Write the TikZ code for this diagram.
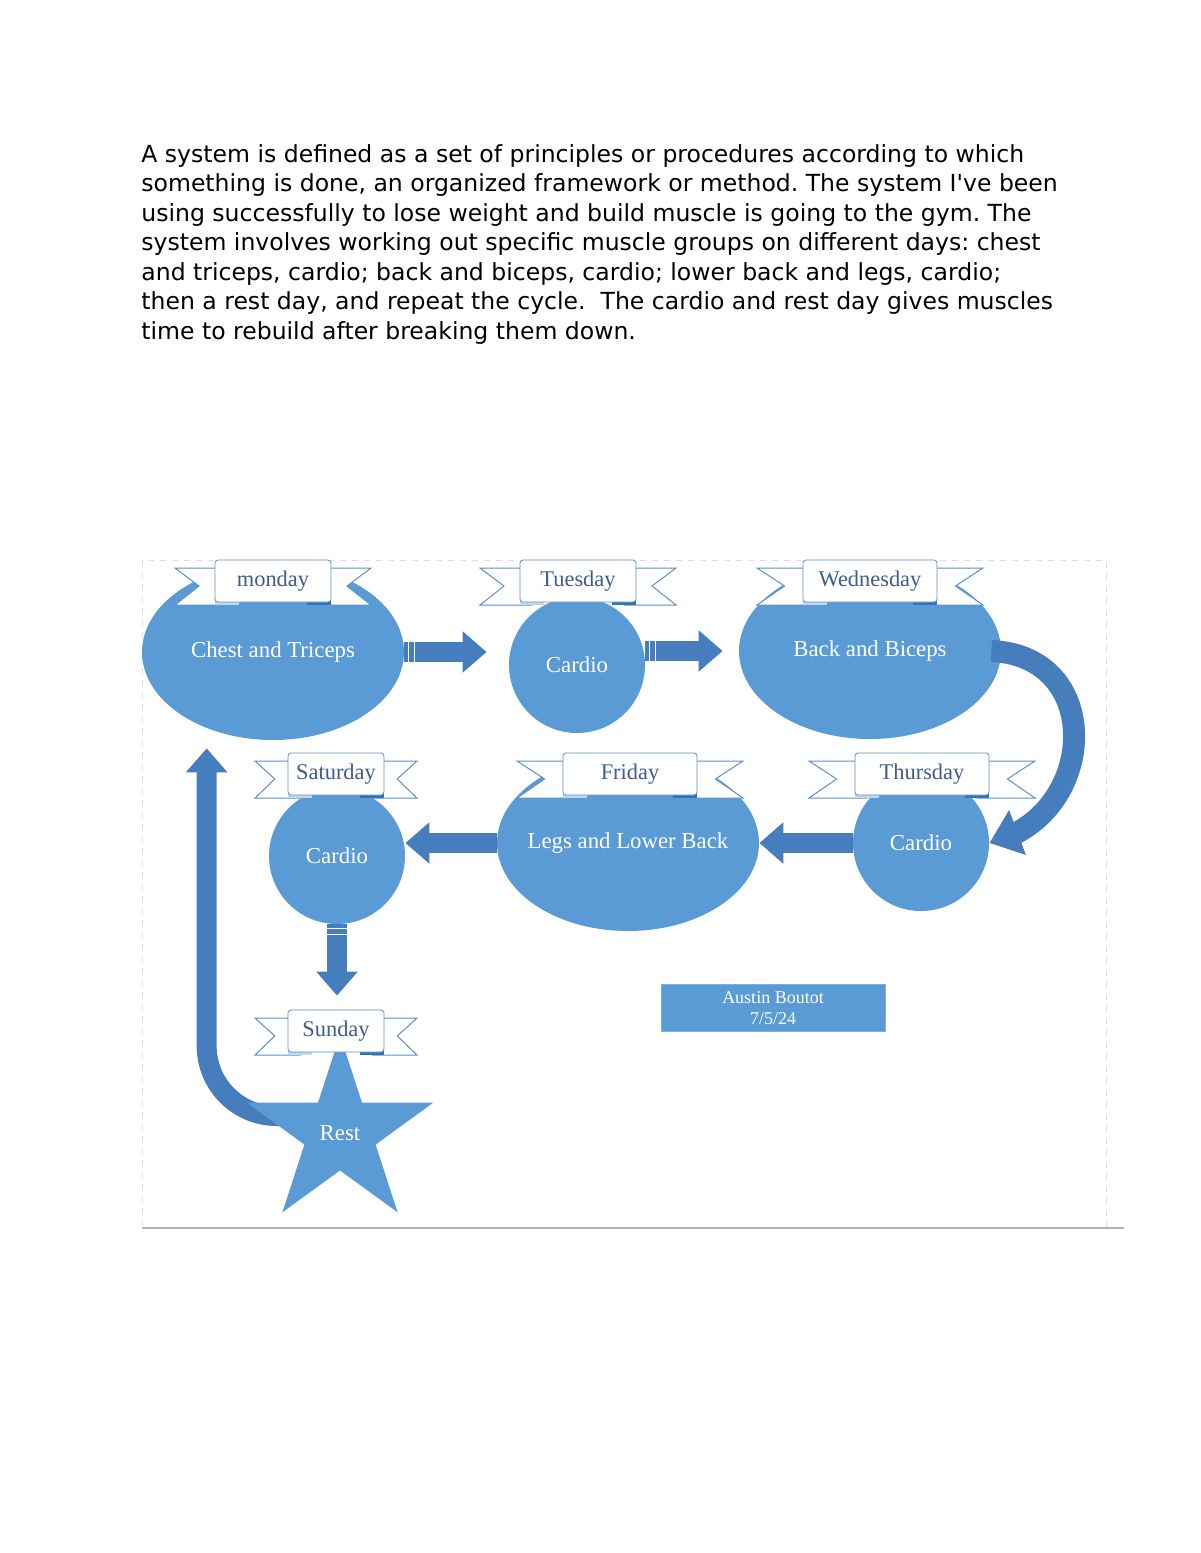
\documentclass[tikz,border=0pt]{standalone}
\usepackage{fontspec}
\setmainfont{Liberation Serif}
\newfontfamily\bodyfont{DejaVu Sans}
\usetikzlibrary{shapes.geometric,arrows.meta,bending,calc,backgrounds}
\frenchspacing

\definecolor{shapeblue}{RGB}{91,155,213}
\definecolor{arrowblue}{RGB}{70,126,189}
\definecolor{ribbonline}{RGB}{91,145,200}
\definecolor{ribbontext}{RGB}{62,92,140}
\definecolor{foldlight}{RGB}{190,214,238}
\definecolor{folddark}{RGB}{46,117,182}

\tikzset{
  dayshape/.style={fill=shapeblue, inner sep=0pt, text=white, font=\fontsize{11.4}{13}\selectfont},
  bigday/.style={dayshape, ellipse, minimum width=131pt, minimum height=88pt},
  cardioday/.style={dayshape, circle, minimum size=68pt},
  blockarrow/.style={draw=arrowblue, line width=10pt, -{Triangle[length=12pt,width=20pt]}},
  ribbon/.style={draw=ribbonline, fill=white, line width=0.5pt},
  bannerbox/.style={draw=ribbonline, fill=white, rounded corners=1.5pt, inner sep=0pt,
    minimum height=21pt, text=ribbontext, font=\fontsize{11.2}{13}\selectfont},
  namebox/.style={fill=shapeblue, draw=shapeblue!80!white, minimum width=112pt, minimum height=23.5pt,
    inner sep=0pt, align=center, text=white, font=\fontsize{9}{10.5}\selectfont},
}

\begin{document}
\begin{tikzpicture}[x=0.5pt,y=-0.5pt]
\useasboundingbox (0,0) rectangle (1200,1553);

% opening paragraph
\node[anchor=north west, inner sep=0pt, align=left, font=\bodyfont\fontsize{11.77}{14.75}\selectfont] (intro) at (141,144)
  {A system is defined as a set of principles or procedures according to which\\
   something is done, an organized framework or method. The system I've been\\
   using successfully to lose weight and build muscle is going to the gym. The\\
   system involves working out specific muscle groups on different days: chest\\
   and triceps, cardio; back and biceps, cardio; lower back and legs, cardio;\\
   then a rest day, and repeat the cycle.\ \ The cardio and rest day gives muscles\\
   time to rebuild after breaking them down.};

% frame of the chart
\draw[gray!25, dashed, line width=0.4pt] (142,560) rectangle (1106,1228);
\draw[gray!60, line width=0.8pt] (142,1228) -- (1124,1228);

% days
\node[bigday] (mon) at (273,652) {\makebox[0pt]{Chest and Triceps}};
\node[cardioday] (tue) at (577,665) {Cardio};
\node[bigday] (wed) at (870,651) {\makebox[0pt]{Back and Biceps}};
\node[cardioday] (thu) at (921,843) {Cardio};
\node[bigday] (fri) at (628,843) {\makebox[0pt]{Legs and Lower Back}};
\node[cardioday] (sat) at (337,856) {Cardio};
\node[dayshape, star, star points=5, star point ratio=2.618, minimum size=98pt] (sun) at (340,1133) {Rest};

% ribbons with the day names
\foreach \nm/\cx/\cy/\hw/\tl/\txt in {mon/273/581/58/40/monday, tue/578/581/58/40/Tuesday,
    wed/870/581/67/46/Wednesday, thu/922/774/67/46/Thursday, fri/630/774/67/46/Friday,
    sat/336/774/48/33/Saturday, sun/336/1031/48/33/Sunday}{
  \draw[ribbon] (\cx-\hw+12,\cy-13) -- (\cx-\hw-\tl,\cy-13) -- (\cx-\hw-0.4*\tl,\cy+5)
    -- (\cx-\hw-\tl,\cy+24) -- (\cx-\hw+12,\cy+24) -- cycle;
  \draw[ribbon] (\cx+\hw-12,\cy-13) -- (\cx+\hw+\tl,\cy-13) -- (\cx+\hw+0.4*\tl,\cy+5)
    -- (\cx+\hw+\tl,\cy+24) -- (\cx+\hw-12,\cy+24) -- cycle;
  \fill[foldlight] (\cx-\hw,\cy+17) rectangle (\cx-\hw+24,\cy+24);
  \fill[folddark] (\cx+\hw-24,\cy+17) rectangle (\cx+\hw,\cy+24);
  \node[bannerbox, minimum width=\hw*1pt] (\nm lbl) at (\cx,\cy) {\txt};
}

% arrows between the days
\draw[blockarrow, shorten >=11pt] (mon.east) -- (mon.east -| tue.west);
\draw[blockarrow, shorten >=8pt] (tue.east |- wed.west) -- (wed.west);
\draw[blockarrow, line width=11pt, -{Triangle[length=15pt,width=23pt]}]
  ([xshift=-5pt]wed.east) .. controls +(115,5) and +(108,-25) .. (thu.east);
\draw[blockarrow] (thu.west) -- (fri.east);
\draw[blockarrow] (fri.west) -- (fri.west -| sat.east);
\draw[blockarrow, shorten >=7pt] (sat.south) -- (sat.south |- sunlbl.north);
\begin{scope}[on background layer]
\draw[blockarrow, rounded corners=35pt, shorten >=10pt] ($(sun.center)+(-50,-17)$) -| (mon.229);
\end{scope}

% stripes at the start of the striped arrows
\foreach \s in {4,10}{
  \draw[white, line width=0.6pt] ($(mon.east)+(\s,-10)$) -- ++(0,20);
  \draw[white, line width=0.6pt] ($(tue.east |- wed.west)+(\s,-10)$) -- ++(0,20);
  \draw[white, line width=0.6pt] ($(sat.south)+(-10,\s)$) -- ++(20,0);
}

% name and date
\node[namebox] (author) at (773,1008) {Austin Boutot\\7/5/24};
\end{tikzpicture}
\end{document}
